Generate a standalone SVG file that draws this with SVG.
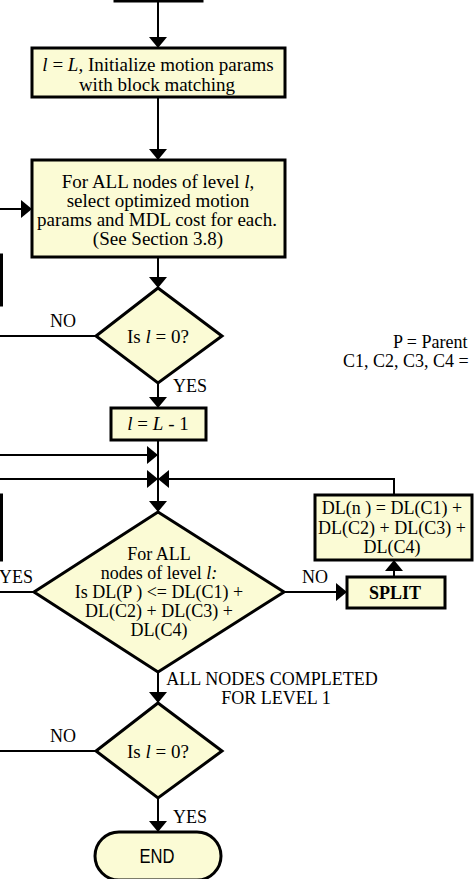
<svg xmlns="http://www.w3.org/2000/svg" width="474" height="879" viewBox="0 0 474 879">
<defs>
<style>
.box{fill:#FBFBD5;stroke:#000;stroke-width:3}
.ln{fill:none;stroke:#000;stroke-width:2}
.t{font-family:"Liberation Serif","Times New Roman",serif;font-size:18px;fill:#000;text-anchor:middle}
.tl{font-family:"Liberation Serif","Times New Roman",serif;font-size:19px;fill:#000;text-anchor:middle}
.ts{font-family:"Liberation Serif","Times New Roman",serif;font-size:18px;fill:#000}
.b{font-weight:bold}
.i{font-style:italic}
.s{font-family:"Liberation Sans",Arial,sans-serif;font-size:20px;fill:#000;text-anchor:middle}
</style>
<marker id="ah" viewBox="0 0 11 18" refX="11" refY="9" markerWidth="11" markerHeight="18" orient="auto" markerUnits="userSpaceOnUse">
<path d="M0,0 L11,9 L0,18 z" fill="#000"/>
</marker>
</defs>
<rect width="474" height="879" fill="#fff"/>

<g id="connectors">
<path class="ln" d="M158,2 V48" marker-end="url(#ah)"/>
<path class="ln" d="M158,97 V160" marker-end="url(#ah)"/>
<path class="ln" d="M0,209 H32" marker-end="url(#ah)"/>
<path class="ln" d="M158,257 V288" marker-end="url(#ah)"/>
<path class="ln" d="M96,336 H0"/>
<path class="ln" d="M158,383 V408" marker-end="url(#ah)"/>
<path class="ln" d="M158,440 V512" marker-end="url(#ah)"/>
<path class="ln" d="M0,455 H158" marker-end="url(#ah)"/>
<path class="ln" d="M0,479 H158" marker-end="url(#ah)"/>
<path class="ln" d="M394,495 V479 H158" marker-end="url(#ah)"/>
<path class="ln" d="M284,592 H347" marker-end="url(#ah)"/>
<path class="ln" d="M394,577 V560" marker-end="url(#ah)"/>
<path class="ln" d="M34,592 H0"/>
<path class="ln" d="M158,672 V703" marker-end="url(#ah)"/>
<path class="ln" d="M96,751 H0"/>
<path class="ln" d="M158,798 V832" marker-end="url(#ah)"/>
</g>

<g id="edge-labels">
<text class="t" x="63" y="327">NO</text>
<text class="ts" x="173" y="392">YES</text>
<text class="ts" x="302" y="583">NO</text>
<text class="ts" x="-1" y="583">YES</text>
<text class="t" x="272" y="685">ALL NODES COMPLETED</text>
<text class="t" x="276" y="704">FOR LEVEL 1</text>
<text class="t" x="63" y="742">NO</text>
<text class="ts" x="173" y="823">YES</text>
</g>

<g id="legend">
<text class="ts" x="393" y="348">P = Parent</text>
<text class="ts" x="343" y="367">C1, C2, C3, C4 =</text>
</g>

<g id="start-box">
<rect class="box" x="115" y="-40" width="87" height="41"/>
</g>

<g id="left-box-1">
<rect class="box" x="-60" y="255" width="61.5" height="50"/>
</g>

<g id="left-box-2">
<rect class="box" x="-60" y="495" width="61.5" height="65"/>
</g>

<g id="init">
<rect class="box" x="32" y="48" width="253" height="49"/>
<text class="tl" x="158" y="71"><tspan class="i">l</tspan> = <tspan class="i">L,</tspan> Initialize motion params</text>
<text class="tl" x="157" y="91">with block matching</text>
</g>

<g id="optimize">
<rect class="box" x="32" y="160" width="253" height="97"/>
<text class="tl" x="158" y="188">For ALL nodes of level <tspan class="i">l</tspan>,</text>
<text class="tl" x="158" y="207">select optimized motion</text>
<text class="tl" x="157" y="226">params and MDL cost for each.</text>
<text class="tl" x="158" y="245">(See Section 3.8)</text>
</g>

<g id="check1">
<polygon class="box" points="158,288 222,336 158,383 96,336"/>
<text class="tl" x="158" y="343">Is <tspan class="i">l</tspan> = 0?</text>
</g>

<g id="decrement">
<rect class="box" x="111" y="408" width="95" height="32"/>
<text class="tl" x="158" y="430"><tspan class="i">l</tspan> = <tspan class="i">L</tspan> - 1</text>
</g>

<g id="compare">
<polygon class="box" points="158,512 284,592 158,672 34,592"/>
<text class="t" x="159" y="560">For ALL</text>
<text class="t" x="159" y="579">nodes of level <tspan class="i">l:</tspan></text>
<text class="t" x="159" y="598">Is DL(P ) &lt;= DL(C1) +</text>
<text class="t" x="159" y="617">DL(C2) + DL(C3) +</text>
<text class="t" x="159" y="636">DL(C4)</text>
</g>

<g id="dl-update">
<rect class="box" x="315" y="495" width="157" height="65"/>
<text class="t" x="392" y="514">DL(n ) = DL(C1) +</text>
<text class="t" x="392" y="534">DL(C2) + DL(C3) +</text>
<text class="t" x="392" y="553">DL(C4)</text>
</g>

<g id="split">
<rect class="box" x="347" y="577" width="98" height="31"/>
<text class="t b" x="395" y="599">SPLIT</text>
</g>

<g id="check2">
<polygon class="box" points="158,703 222,751 158,798 96,751"/>
<text class="tl" x="158" y="758">Is <tspan class="i">l</tspan> = 0?</text>
</g>

<g id="end">
<rect class="box" x="95" y="832" width="126" height="48" rx="24" ry="24"/>
<text class="s" x="157" y="863" textLength="35" lengthAdjust="spacingAndGlyphs">END</text>
</g>
</svg>
